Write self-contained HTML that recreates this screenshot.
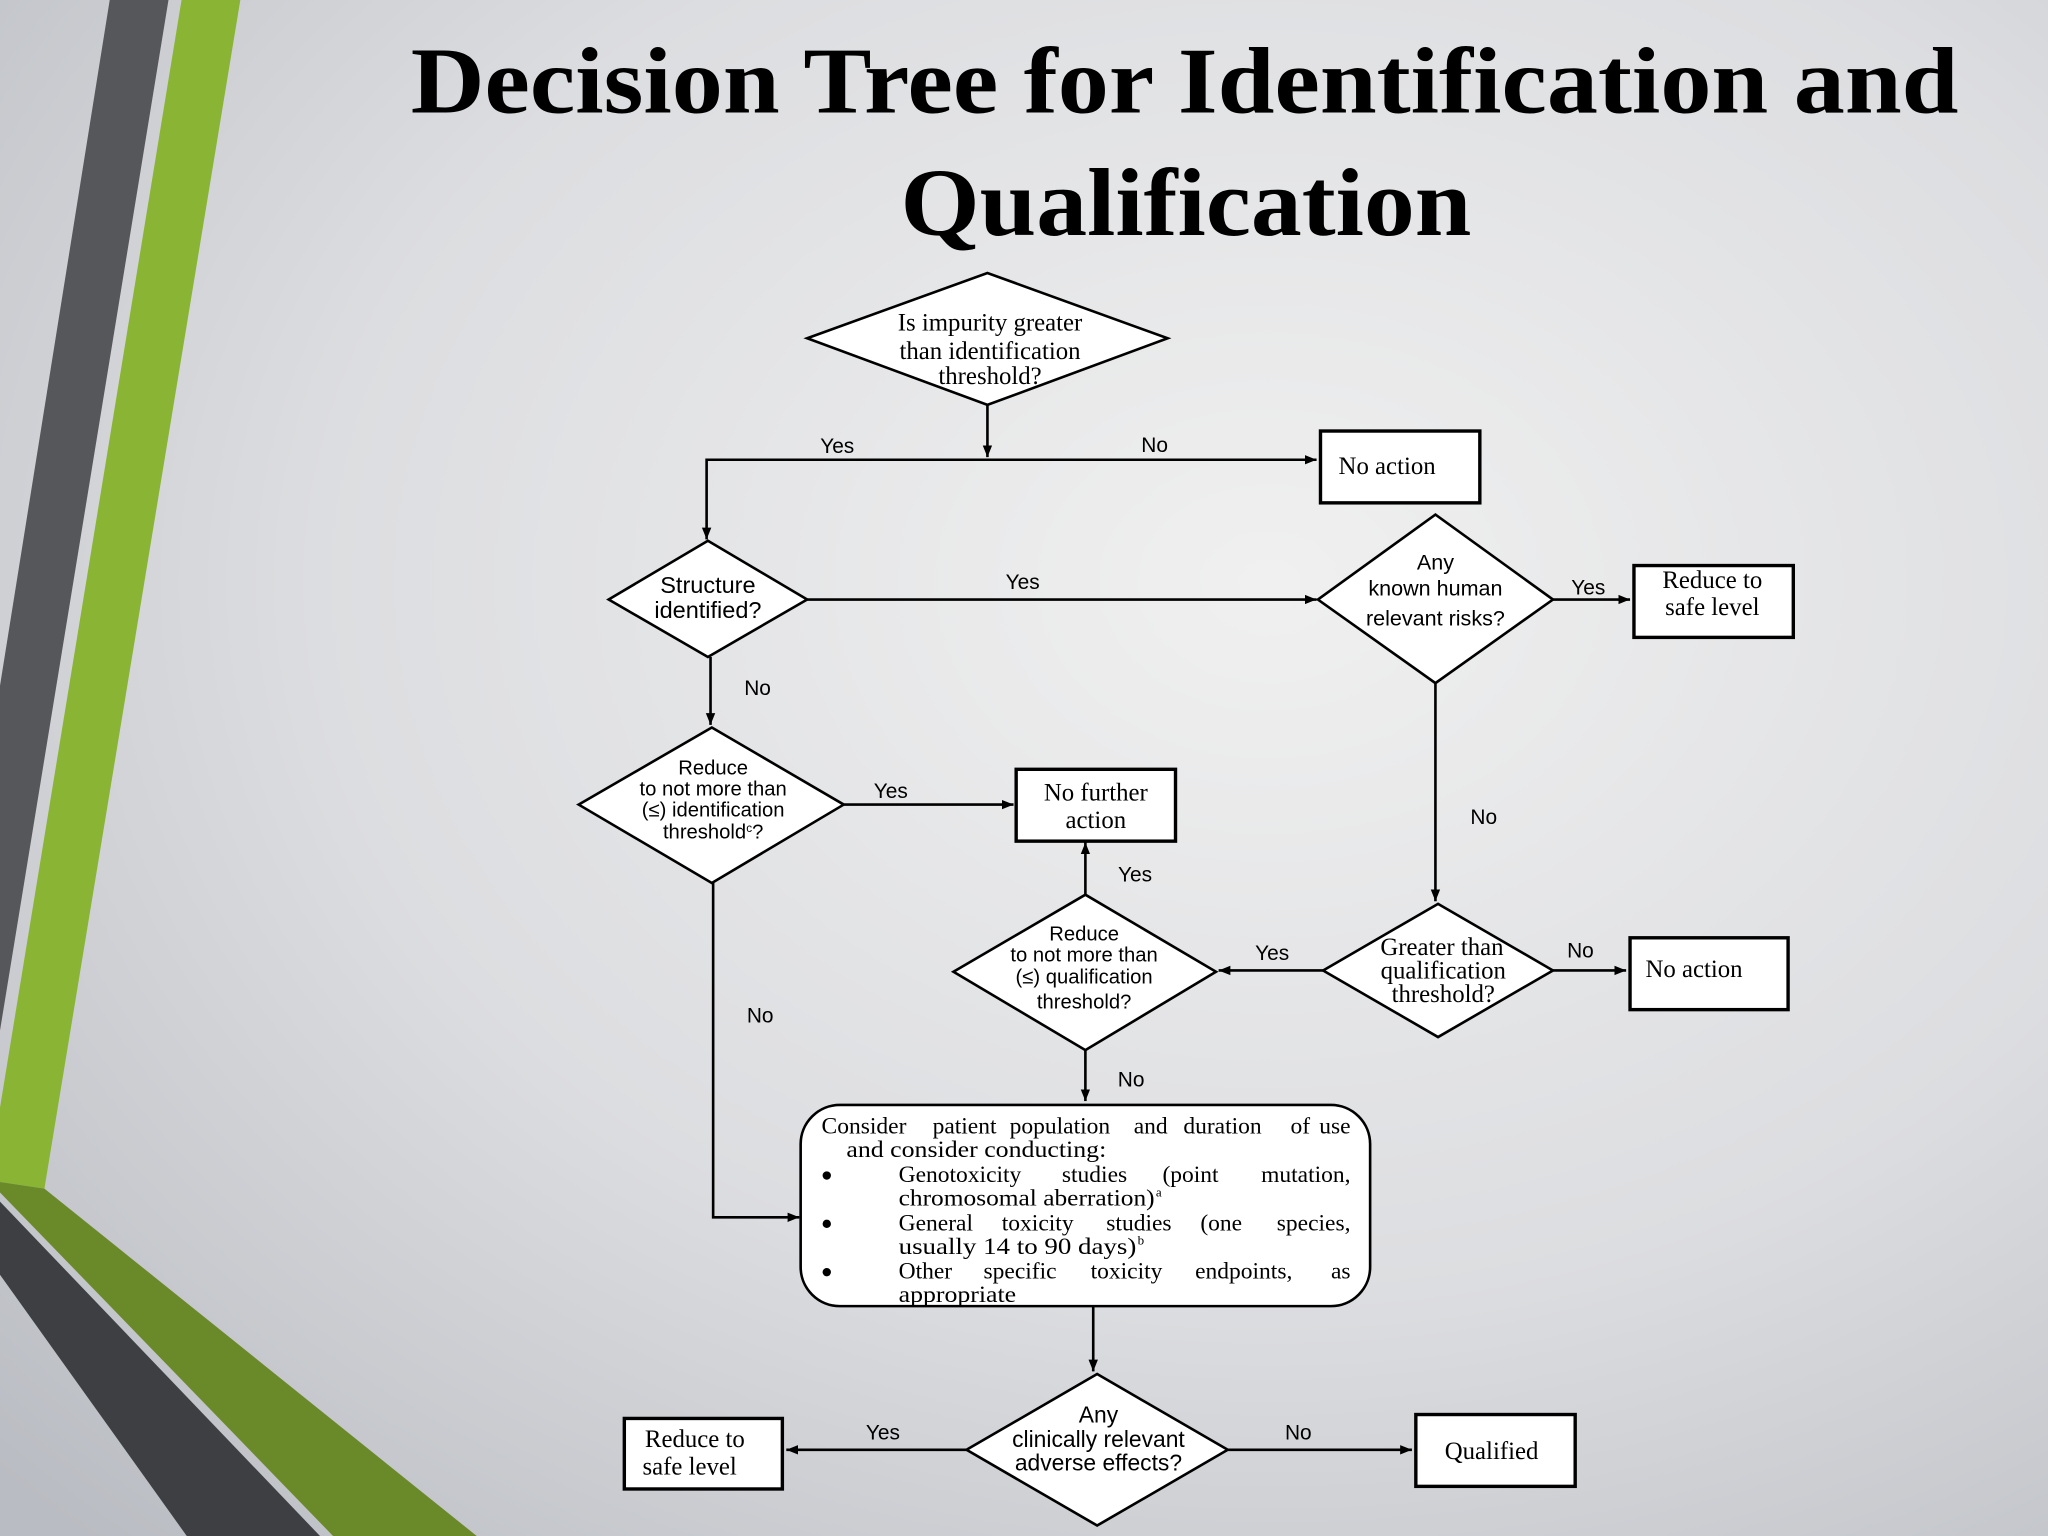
<!DOCTYPE html>
<html><head><meta charset="utf-8"><style>
html,body{margin:0;padding:0;width:2048px;height:1536px;overflow:hidden;background:#d8dadd}
svg{display:block}
.sf{font-family:"Liberation Serif",serif}
.ss{font-family:"Liberation Sans","DejaVu Sans",sans-serif}
</style></head><body>
<svg width="2048" height="1536" viewBox="0 0 1568 1176" xmlns="http://www.w3.org/2000/svg">
<defs>
<radialGradient id="bg" cx="0.62" cy="0.38" r="0.85">
<stop offset="0" stop-color="#f0f0f0"/>
<stop offset="0.55" stop-color="#dcdde0"/>
<stop offset="1" stop-color="#b9bcc2"/>
</radialGradient>
<marker id="a" viewBox="0 0 10 10" refX="10" refY="5" markerWidth="9" markerHeight="9" markerUnits="userSpaceOnUse" orient="auto">
<path d="M0,1 L10,5 L0,9 z" fill="#000"/></marker>
</defs>
<rect width="1568" height="1176" fill="url(#bg)"/>
<polygon points="84,0 129,0 0,789 0,525" fill="#55575a"/>
<polygon points="139,0 184,0 34,910 0,905 0,848" fill="#8ab433"/>
<polygon points="0,905 34,910 365,1176 255,1176 0,913" fill="#6a8a2a"/>
<polygon points="0,920 245,1176 143,1176 0,976" fill="#3d3f42"/>
<text x="907" y="86" text-anchor="middle" class="sf" font-weight="bold" font-size="72" textLength="1185" lengthAdjust="spacingAndGlyphs">Decision Tree for Identification and</text>
<text x="908" y="180" text-anchor="middle" class="sf" font-weight="bold" font-size="74" textLength="437" lengthAdjust="spacingAndGlyphs">Qualification</text>

<g stroke="#000" stroke-width="2" fill="none">
<line x1="756" y1="310" x2="756" y2="350" marker-end="url(#a)"/>
<line x1="541" y1="352" x2="1008" y2="352" marker-end="url(#a)"/>
<line x1="541" y1="351" x2="541" y2="413" marker-end="url(#a)"/>
<line x1="618" y1="459" x2="1008" y2="459" marker-end="url(#a)"/>
<line x1="1189" y1="459" x2="1248" y2="459" marker-end="url(#a)"/>
<line x1="1099" y1="523" x2="1099" y2="690" marker-end="url(#a)"/>
<line x1="544" y1="503" x2="544" y2="555" marker-end="url(#a)"/>
<line x1="646" y1="616" x2="776" y2="616" marker-end="url(#a)"/>
<polyline points="546,676 546,932 612,932" marker-end="url(#a)"/>
<line x1="831" y1="685" x2="831" y2="645" marker-end="url(#a)"/>
<line x1="1013" y1="743" x2="933" y2="743" marker-end="url(#a)"/>
<line x1="1189" y1="743" x2="1245" y2="743" marker-end="url(#a)"/>
<line x1="831" y1="804" x2="831" y2="843" marker-end="url(#a)"/>
<line x1="837" y1="1000" x2="837" y2="1050" marker-end="url(#a)"/>
<line x1="740" y1="1110" x2="602" y2="1110" marker-end="url(#a)"/>
<line x1="940" y1="1110" x2="1081" y2="1110" marker-end="url(#a)"/>
</g>
<g stroke="#000" stroke-width="2" fill="#fff">
<polygon points="618,259 756,209 894,259 756,310"/>
<polygon points="466,459 542,414 618,459 542,503"/>
<polygon points="1009,459 1099,394 1189,459 1099,523"/>
<polygon points="443,616 545,557 646,616 545,676"/>
<polygon points="730,744 831,685 931,744 831,804"/>
<polygon points="1013,743 1101,692 1189,743 1101,794"/>
<polygon points="740,1110 840,1052 940,1110 840,1168"/>
<rect x="613" y="846" width="436" height="154" rx="30"/>
</g>
<g stroke="#000" stroke-width="2.6" fill="#fff">
<rect x="1011" y="330" width="122" height="55"/>
<rect x="1251" y="433" width="122" height="55"/>
<rect x="778" y="589" width="122" height="55"/>
<rect x="1248" y="718" width="121" height="55"/>
<rect x="478" y="1086" width="121" height="54"/>
<rect x="1084" y="1083" width="122" height="55"/>
</g>
<g class="sf" font-size="19" text-anchor="middle" fill="#000">
<text x="758" y="253">Is impurity  greater</text>
<text x="758" y="275">than identification</text>
<text x="758" y="294">threshold?</text>
<text x="1062" y="363">No action</text>
<text x="1311" y="450">Reduce to</text>
<text x="1311" y="471">safe level</text>
<text x="839" y="613">No further</text>
<text x="839" y="634">action</text>
<text x="1104" y="731">Greater than</text>
<text x="1105" y="749">qualification</text>
<text x="1105" y="767">threshold?</text>
<text x="1297" y="748">No action</text>
<text x="532" y="1108">Reduce to</text>
<text x="528" y="1129">safe level</text>
<text x="1142" y="1117">Qualified</text>
</g>
<g class="ss" font-size="16" fill="#000" text-anchor="middle">
<text x="641" y="347">Yes</text>
<text x="884" y="346">No</text>
<text x="783" y="451">Yes</text>
<text x="1216" y="455">Yes</text>
<text x="580" y="532">No</text>
<text x="1136" y="631">No</text>
<text x="682" y="611">Yes</text>
<text x="869" y="675">Yes</text>
<text x="582" y="783">No</text>
<text x="974" y="735">Yes</text>
<text x="1210" y="733">No</text>
<text x="866" y="832">No</text>
<text x="676" y="1102">Yes</text>
<text x="994" y="1102">No</text>
</g>
<g class="ss" text-anchor="middle" fill="#000">
<text x="542" y="454" font-size="18">Structure</text>
<text x="542" y="473" font-size="18">identified?</text>
<text x="1099" y="436" font-size="16.5">Any</text>
<text x="1099" y="456" font-size="16.5">known human</text>
<text x="1099" y="479" font-size="16.5">relevant risks?</text>
<text x="546" y="593" font-size="15.5">Reduce</text>
<text x="546" y="609" font-size="15.5">to not more than</text>
<text x="546" y="625" font-size="15.5">(≤) identification</text>
<text x="546" y="642" font-size="15.5">threshold<tspan font-size="9" dy="-5">c</tspan><tspan dy="5">?</tspan></text>
<text x="830" y="720" font-size="15.5">Reduce</text>
<text x="830" y="736" font-size="15.5">to not more than</text>
<text x="830" y="753" font-size="15.5">(≤) qualification</text>
<text x="830" y="772" font-size="15.5">threshold?</text>
<text x="841" y="1089" font-size="17.5">Any</text>
<text x="841" y="1108" font-size="17.5">clinically relevant</text>
<text x="841" y="1126" font-size="17.5">adverse effects?</text>
</g>
<g class="sf" font-size="18" fill="#000">
<text x="629" y="868">Consider</text><text x="714" y="868">patient</text><text x="773" y="868">population</text><text x="868" y="868">and</text><text x="906" y="868">duration</text><text x="988" y="868">of</text><text x="1034" y="868" text-anchor="end">use</text>
<text x="648" y="886" textLength="199" lengthAdjust="spacingAndGlyphs">and consider conducting:</text>
<circle cx="633" cy="900" r="3.2"/>
<text x="688" y="905">Genotoxicity</text><text x="813" y="905">studies</text><text x="890" y="905">(point</text><text x="1034" y="905" text-anchor="end">mutation,</text>
<text x="688" y="923" textLength="196" lengthAdjust="spacingAndGlyphs">chromosomal aberration)</text><text x="885" y="916" font-size="10">a</text>
<circle cx="633" cy="937" r="3.2"/>
<text x="688" y="942">General</text><text x="767" y="942">toxicity</text><text x="847" y="942">studies</text><text x="919" y="942">(one</text><text x="1034" y="942" text-anchor="end">species,</text>
<text x="688" y="960" textLength="182" lengthAdjust="spacingAndGlyphs">usually  14 to 90 days)</text><text x="871" y="953" font-size="10">b</text>
<circle cx="633" cy="974" r="3.2"/>
<text x="688" y="979">Other</text><text x="753" y="979">specific</text><text x="835" y="979">toxicity</text><text x="915" y="979">endpoints,</text><text x="1034" y="979" text-anchor="end">as</text>
<text x="688" y="997" textLength="90" lengthAdjust="spacingAndGlyphs">appropriate</text>
</g>
</svg>
</body></html>
